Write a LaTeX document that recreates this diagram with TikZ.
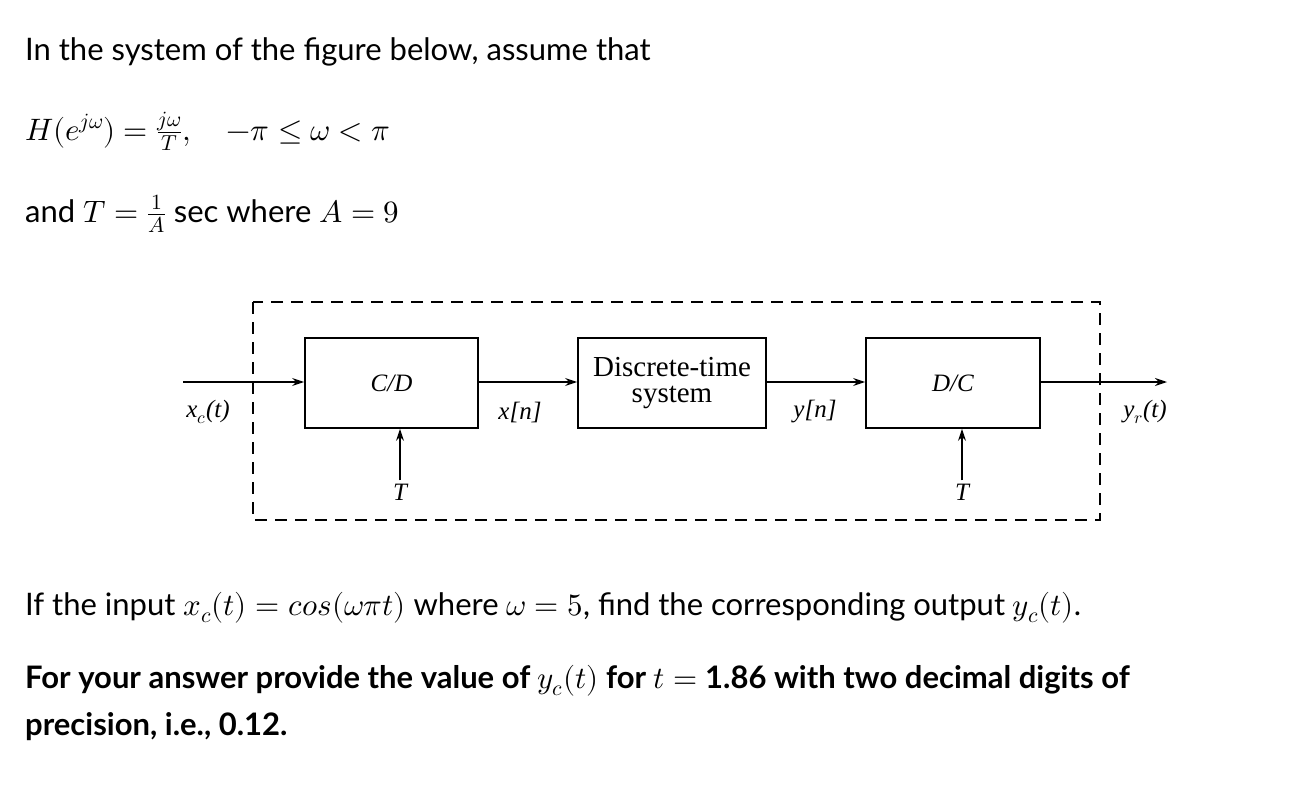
\documentclass[tikz,border=0pt]{standalone}
\usepackage{amsmath}
\usepackage{unicode-math}
\usetikzlibrary{arrows.meta}
\setmainfont{Lato}
\setmathfont{Latin Modern Math}
\newfontfamily\tms{Liberation Serif}
\begin{document}
\begin{tikzpicture}[x=1pt,y=-1pt,
  blk/.style={draw,line width=1.8pt,inner sep=0pt},
  sig/.style={line width=1.4pt,-{Stealth[length=12pt,width=8pt]}},
  dlab/.style={font=\tms\fontsize{25}{27}\selectfont},
  txt/.style={anchor=base west,inner sep=0pt,font=\fontsize{31}{36}\selectfont}]
\useasboundingbox (0,0) rectangle (1316,792);
\node[txt] (l1) at (25,60) {In the system of the figure below, assume that};
\node[txt] (l2) at (25,140) {$H(e^{j\omega})=\frac{j\omega}{T},\quad -\pi\le\omega<\pi$};
\node[txt] (l3) at (25,222) {and $T=\frac{1}{A}$ sec where $A=9$};
\draw[line width=1.2pt,dash pattern=on 12pt off 8pt] (253,302) rectangle (1100,520);
\node[blk,minimum width=173pt,minimum height=90pt,dlab] (cd) at (391.5,383) {\itshape C/D};
\node[blk,minimum width=188pt,minimum height=90pt,align=center,font=\tms\fontsize{29}{30}\selectfont] (dt) at (672,383) {Discrete-time\\[-4pt]system};
\node[blk,minimum width=174pt,minimum height=90pt,dlab] (dc) at (953,383) {\itshape D/C};
\coordinate (in) at (183,382);
\coordinate (out) at (1167,382);
\draw[sig] (in) -- (in -| cd.west);
\draw[sig] (cd.east |- in) -- (dt.west |- in);
\draw[sig] (dt.east |- in) -- (dc.west |- in);
\draw[sig] (dc.east |- in) -- (out);
\node[dlab] (t1) at (400,492) {\itshape T};
\node[dlab] (t2) at (962,492) {\itshape T};
\draw[sig] (t1.north) -- (t1.north |- cd.south);
\draw[sig] (t2.north) -- (t2.north |- dc.south);
\node[dlab] (xc) at (208,412) {\itshape x$_c$(t)};
\node[dlab] (xn) at (520,412) {\itshape x[n]};
\node[dlab] (yn) at (815,412) {\itshape y[n]};
\node[dlab] (yr) at (1145,412) {\itshape y$_r$(t)};
\node[txt] (l4) at (25,615) {If the input $x_c(t)=cos(\omega\pi t)$ where $\omega=5$, find the corresponding output $y_c(t)$.};
\node[txt,font=\bfseries\fontsize{31}{36}\selectfont] (l5) at (25,688) {For your answer provide the value of $y_c(t)$ for $t=$ 1.86 with two decimal digits of};
\node[txt,font=\bfseries\fontsize{31}{36}\selectfont] (l6) at (25,735) {precision, i.e., 0.12.};
\end{tikzpicture}
\end{document}
